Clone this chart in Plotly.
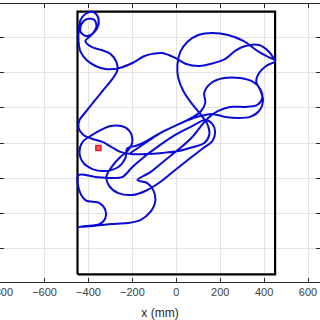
import plotly.graph_objects as go

# Trajectory (mm)
x_mm = [450, 423, 377, 314, 268, 223, 155, 105, 45, -5, -64, -109, -145, -200, -259, -323, -368, -409, -436, -445,
        -445, -436, -414, -382, -359, -355, -373, -409, -436, -432, -405, -373, -364, -386, -414,
        -386, -341, -300, -273, -268, -291, -332, -373, -409, -441, -445, -423, -382, -336, -295, -255, -205, -136, -64, 9, 77, 127, 150, 141,
        109, 68, 32, 9, 5, 18, 50, 100, 164, 236, 305, 364, 409, 450,
        409, 377, 364, 382, 395, 377, 336, 282, 223, 164, 109, 45, -18, -82, -136, -186,
        -223, -232, -264, -323, -382, -423, -441, -427, -391, -345, -300, -250, -214, -200, -218, -255,
        -291, -318, -305, -264, -200, -141, -73, -5, 64, 123, 164, 177, 164, 132, 64, -5, -73, -141, -200, -245, -300, -368, -445,
        -445, -414, -350, -323, -323, -350, -414, -445,
        -377, -300, -223, -164, -118, -95, -105, -132, -177,
        -118, -50, 18, 73, 109, 145, 191, 245, 314, 368, 391, 382, 350, 291, 218, 159, 127, 132, 109, 50, -18, -73, -141, -209]
y_mm = [469, 520, 560, 554, 526, 480, 451, 440, 451, 486, 514, 509, 497, 457, 429, 423, 440, 474, 520, 577,
        634, 703, 737, 749, 726, 674, 634, 611, 634, 680, 709, 703, 663, 617, 583,
        549, 531, 509, 463, 417, 366, 303, 240, 183, 131, 86, 46, 23, 6, -23, -51, -63, -63, -57, -46, -23, 0, 46, 109,
        166, 229, 297, 371, 446, 520, 577, 617, 629, 617, 583, 531, 497, 469,
        440, 400, 349, 303, 246, 183, 149, 143, 149, 166, 154, 126, 91, 51, 11, -17,
        -29, -86, -137, -160, -149, -114, -51, 6, 40, 74, 97, 97, 69, 11, -40, -80,
        -131, -189, -246, -286, -297, -274, -223, -154, -86, -29, 11, 63, 109, 131, 91, 46, -11, -74, -137, -194, -200, -194, -183,
        -257, -326, -343, -383, -429, -463, -474, -480,
        -474, -463, -457, -440, -394, -326, -269, -229, -211,
        -166, -97, -29, 34, 91, 143, 183, 206, 206, 217, 257, 309, 349, 371, 371, 343, 286, 229, 177, 131, 91, 57, 0, -57]

# Arena boundary (mm)
arena_x = [-450, 450, 450, -450, -450]
arena_y = [-750, -750, 750, 750, -750]

# Start marker (mm)
start_x = [-355]
start_y = [-29]

x_ticks = [-800, -600, -400, -200, 0, 200, 400, 600]
y_ticks = [-600, -400, -200, 0, 200, 400, 600]

fig = go.Figure()
fig.add_trace(go.Scatter(x=arena_x, y=arena_y, mode="lines",
                         line=dict(color="black", width=2.2), hoverinfo="skip"))
fig.add_trace(go.Scatter(x=x_mm, y=y_mm, mode="lines",
                         line=dict(color="#0a0ad8", width=2, shape="spline", smoothing=0.9)))
fig.add_trace(go.Scatter(x=start_x, y=start_y, mode="markers",
                         marker=dict(symbol="square", color="#f06060", size=5,
                                     line=dict(width=1.5, color="#e8202a"))))

axis_common = dict(showgrid=True, gridcolor="#e3e3e3", gridwidth=1, zeroline=False,
                   showline=True, linecolor="#262626", linewidth=1, mirror="ticks",
                   ticks="inside", ticklen=4, tickcolor="#262626", automargin=False,
                   tickfont=dict(family="Liberation Sans, Arial, sans-serif", size=11, color="#404040"))

fig.update_layout(
    width=320, height=320, template="none",
    margin=dict(l=0, r=0, t=4, b=38),
    paper_bgcolor="white", plot_bgcolor="white",
    showlegend=False,
    xaxis=dict(range=[-803, 654.5], tickvals=x_ticks, ticklabeloverflow="allow",
               ticktext=["\u2212800", "\u2212600", "\u2212400", "\u2212200", "0", "200", "400", "600"],
               title=dict(text="x (mm)", standoff=11,
                          font=dict(family="Liberation Sans, Arial, sans-serif", size=12, color="#262626")),
               **axis_common),
    yaxis=dict(range=[-794, 794], tickvals=y_ticks, showticklabels=False, **axis_common),
)

fig.write_html("out.html")
